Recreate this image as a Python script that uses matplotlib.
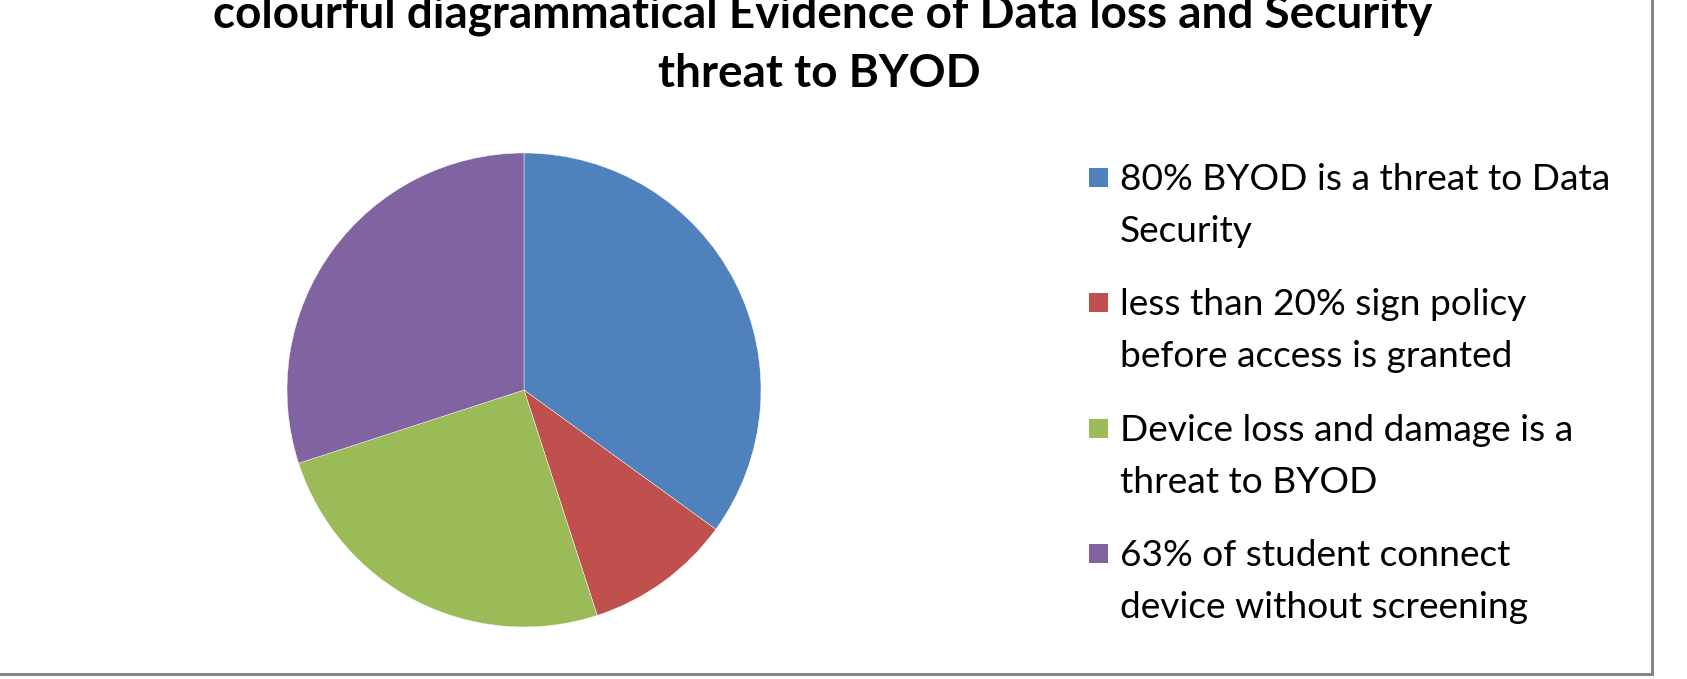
import matplotlib.pyplot as plt
import matplotlib.patches as mpatches

# data
labels = ['80% BYOD is a threat to Data\nSecurity',
          'less than 20% sign policy\nbefore access is granted',
          'Device loss and damage is a\nthreat to BYOD',
          '63% of student connect\ndevice without screening']
values = [35, 10, 25, 30]
colors = ['#4F81BD', '#C0504D', '#9BBB59', '#8064A2']
title = 'colourful diagrammatical Evidence of Data loss and Security\nthreat to BYOD'

W, H = 1687, 679
plt.rcParams['font.family'] = ['Lato', 'DejaVu Sans']
fig = plt.figure(figsize=(W / 100, H / 100), dpi=100, facecolor='white')

# pie
cx, cy, r = 524, 390, 237
ax = fig.add_axes([(cx - r) / W, (H - cy - r) / H, 2 * r / W, 2 * r / H])
ax.pie(values, colors=colors, startangle=90, counterclock=False,
       wedgeprops=dict(linewidth=0.3, edgecolor='white'))
ax.set_xlim(-1, 1)
ax.set_ylim(-1, 1)
ax.axis('off')

# title (top line is clipped by the image edge, as in the source)
t1, t2 = title.split('\n')
fig.text(823 / W, 1 - 28 / H, t1, ha='center', va='baseline', fontsize=33, fontweight='bold')
fig.text(819 / W, 1 - 87 / H, t2, ha='center', va='baseline', fontsize=33, fontweight='bold')

# legend (square aligned with first text line)
for i, (lab, col) in enumerate(zip(labels, colors)):
    y0 = 190 + i * 125.4
    fig.patches.append(mpatches.Rectangle((1089 / W, 1 - (y0 - 3) / H), 19 / W, 19 / H,
                                          transform=fig.transFigure, facecolor=col,
                                          edgecolor='none'))
    l1, l2 = lab.split('\n')
    fig.text(1120 / W, 1 - y0 / H, l1, ha='left', va='baseline', fontsize=26.7)
    fig.text(1120 / W, 1 - (y0 + 52) / H, l2, ha='left', va='baseline', fontsize=26.7)

# chart border (only right and bottom visible)
fig.patches.append(mpatches.Rectangle((-10 / W, 5 / H), (1652 + 10) / W, 700 / H,
                                      transform=fig.transFigure, fill=False,
                                      edgecolor='#868686', linewidth=2.2))

fig.savefig('out.png', dpi=100, facecolor='white')
